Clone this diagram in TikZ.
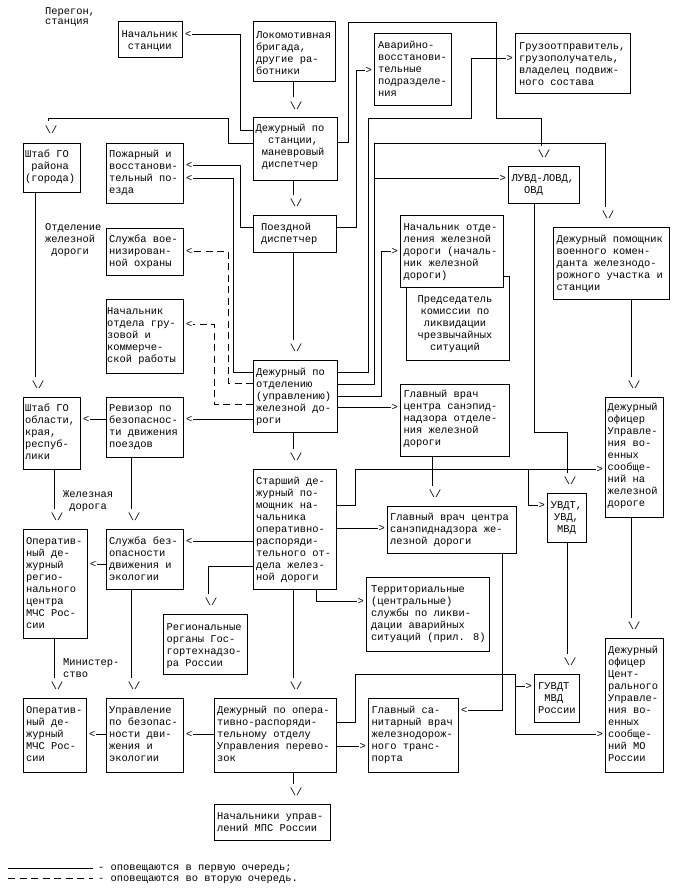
\documentclass[tikz,border=0pt]{standalone}
\usepackage{fontspec}
\newfontfamily\monofam{Liberation Mono}
\newcommand\monof{\monofam\fontsize{10.4}{12}\selectfont}
\newcommand\ind[1]{\hspace*{#1\dimexpr0.6em\relax}}
\newcommand\bs{\textbackslash}
\newcommand\T[4]{\node[tx] (#1) at (#2,#3-8.4) {\strut#4};}
\newcommand\TC[4]{\node[tc] (#1) at (#2,#3-8.4) {\strut#4};}
\newcommand\B[5]{\node[bx, minimum width=#4pt, minimum height=#5pt] (#1) at (#2,#3) {};}
\begin{document}
\begin{tikzpicture}[x=1pt,y=-1pt,
  bx/.style={draw, line width=1pt, anchor=north west, inner sep=0pt, outer sep=0pt, fill=white},
  tx/.style={anchor=north west, inner sep=0pt, align=left, font=\monof},
  tc/.style={anchor=north, inner sep=0pt, align=center, font=\monof},
  ln/.style={line width=0.7pt},
  dl/.style={line width=0.7pt, dash pattern=on 7pt off 4.5pt},
  lt/.style={anchor=west, inner sep=0pt, font=\monof, xshift=3pt},
  gt/.style={anchor=east, inner sep=0pt, font=\monof, xshift=-2pt},
  dn/.style={anchor=north, inner sep=0pt, font=\monof, xshift=3.12pt, yshift=-4.5pt}]
\useasboundingbox[fill=white] (0,0) rectangle (677,888);

% ---------- boxes ----------
\B{nst}{118}{22}{64}{36}
\B{loco}{253}{22}{82}{60}
\B{avar}{374}{34}{77}{72}
\B{gruz}{515}{34}{115}{60}
\B{ds}{253}{118}{84}{62}
\B{shr}{23}{143}{57}{49}
\B{pozh}{106}{143}{77}{60}
\B{luvd}{508}{166}{71}{37}
\B{pd}{253}{215}{83}{37}
\B{sluzh}{106}{228}{77}{47}
\B{pred}{406}{276}{103}{84}
\B{nod}{400}{215}{103}{72}
\B{dpvk}{553}{227}{116}{72}
\B{nog}{106}{299}{77}{74}
\B{dpo}{253}{360}{84}{72}
\B{sho}{23}{397}{57}{72}
\B{rev}{106}{397}{77}{60}
\B{gvo}{400}{384}{109}{72}
\B{dov}{605}{397}{58}{120}
\B{st}{253}{469}{83}{120}
\B{gvz}{387}{506}{129}{47}
\B{uvdt}{547}{493}{39}{49}
\B{ord}{23}{529}{64}{109}
\B{sbd}{106}{529}{77}{60}
\B{ter}{366}{577}{123}{74}
\B{reg}{163}{614}{84}{60}
\B{docu}{605}{638}{58}{134}
\B{guvdt}{534}{674}{45}{48}
\B{omch}{23}{698}{63}{74}
\B{upr}{106}{698}{77}{74}
\B{doro}{214}{698}{122}{74}
\B{gsv}{368}{698}{90}{74}
\B{nu}{214}{804}{116}{36}

% ---------- texts ----------
\node[anchor=north west, inner sep=0pt, align=left, font=\monofam\fontsize{10.4}{10}\selectfont] (peregon) at (45,14-7) {\strut Перегон,\\станция};
\T{tnst}{121.5}{37.5}{Начальник\\\ind{1}станции}
\T{tloco}{256}{38}{Локомотивная\\бригада,\\другие ра-\\ботники}
\T{tavar}{378}{48.5}{Аварийно-\\восстанови-\\тельные\\подразделе-\\ния}
\T{tgruz}{519}{49.5}{Грузоотправитель,\\грузополучатель,\\владелец подвиж-\\ного состава}
\T{tds}{255.5}{131.5}{Дежурный по\\\ind{2}станции,\\\ind{1}маневровый\\\ind{1}диспетчер}
\T{tshr}{25}{157.5}{Штаб ГО\\\ind{1}района\\(города)}
\T{tpozh}{109}{157.5}{Пожарный и\\восстанови-\\тельный по-\\езда}
\T{tluvd}{511.5}{181.5}{ЛУВД-ЛОВД,\\\ind{2}ОВД}
\T{tpd}{261}{230.5}{Поездной\\диспетчер}
\T{otd}{45}{230.5}{Отделение\\железной\\\ind{1}дороги}
\T{tsluzh}{109}{242.5}{Служба вое-\\низирован-\\ной охраны}
\T{tnod}{403.5}{230.5}{Начальник отде-\\ления железной\\дороги (началь-\\ник железной\\дороги)}
\TC{tpred}{455}{302.5}{Председатель\\комиссии по\\ликвидации\\чрезвычайных\\ситуаций}
\T{tdpvk}{556.5}{242.5}{Дежурный помощник\\военного комен-\\данта железнодо-\\рожного участка и\\станции}
\T{tnog}{107}{314.5}{Начальник\\отдела гру-\\зовой и\\коммерче-\\ской работы}
\T{tdpo}{256}{375.5}{Дежурный по\\отделению\\(управлению)\\железной до-\\роги}
\T{tsho}{25}{411}{Штаб ГО\\области,\\края,\\респуб-\\лики}
\T{trev}{109}{411}{Ревизор по\\безопаснос-\\ти движения\\поездов}
\T{tgvo}{403.5}{397.5}{Главный врач\\центра санэпид-\\надзора отделе-\\ния железной\\дороги}
\T{tdov}{607.5}{410.5}{Дежурный\\офицер\\Управле-\\ния во-\\енных\\сообще-\\ний на\\железной\\дороге}
\T{zhd}{63}{497}{Железная\\\ind{1}дорога}
\T{tst}{256}{484.5}{Старший де-\\журный по-\\мощник на-\\чальника\\оперативно-\\распоряди-\\тельного от-\\дела желез-\\ной дороги}
\T{tgvz}{390}{520.5}{Главный врач центра\\санэпиднадзора же-\\лезной дороги}
\TC{tuvdt}{566.5}{508.5}{УВДТ,\\УВД,\\МВД}
\T{tord}{26}{544.5}{Оператив-\\ный де-\\журный\\регио-\\нального\\центра\\МЧС Рос-\\сии}
\T{tsbd}{109}{544.5}{Служба без-\\опасности\\движения и\\экологии}
\T{tter}{371}{592.5}{Территориальные\\(центральные)\\службы по ликви-\\дации аварийных\\ситуаций (прил. 8)}
\T{treg}{166.5}{630.5}{Региональные\\органы Гос-\\гортехнадзо-\\ра России}
\T{tdocu}{608}{653.5}{Дежурный\\офицер\\Цент-\\рального\\Управле-\\ния во-\\енных\\сообще-\\ний МО\\России}
\T{minist}{63}{665.5}{Министер-\\ство}
\T{tguvdt}{538}{689.5}{ГУВДТ\\\ind{1}МВД\\России}
\T{tomch}{26}{713.5}{Оператив-\\ный де-\\журный\\МЧС Рос-\\сии}
\T{tupr}{109}{713.5}{Управление\\по безопас-\\ности дви-\\жения и\\экологии}
\T{tdoro}{217}{713.5}{Дежурный по опера-\\тивно-распоряди-\\тельному отделу\\Управления перево-\\зок}
\T{tgsv}{371.5}{713.5}{Главный са-\\нитарный врач\\железнодорож-\\ного транс-\\порта}
\T{tnu}{217}{819.5}{Начальники управ-\\лений МПС России}
\T{lg1}{98}{870.5}{- оповещаются в первую очередь;}
\T{lg2}{98}{881}{- оповещаются во вторую очередь.}

% ---------- legend lines ----------
\draw[ln] (8,0 |- lg1.west) -- ([xshift=-5pt]lg1.west);
\draw[dl] (8,0 |- lg2.west) -- ([xshift=-5pt]lg2.west);

% ---------- left / centre connectors ----------
% ds -> nst
\node[lt] (a1) at (nst.east |- 0,34) {<};
\draw[ln] (ds.west |- 0,130) -| (240,34) -- (a1.east);
% loco -> ds
\coordinate (p2) at (293,97);
\node[dn] (v2) at (p2) {\bs/};
\draw[ln] (loco.south -| p2) -- (p2);
% ds -> shr
\coordinate (p3) at (48,121.5);
\node[dn] (v3) at (p3) {\bs/};
\draw[ln] (ds.west |- 0,143) -| (228,118) -| (p3);
% pd -> pozh
\node[lt] (a4) at (pozh.east |- 0,165) {<};
\draw[ln] (pd.west |- 0,227) -| (240,165) -- (a4.east);
% dpo -> pozh
\node[lt] (a5) at (pozh.east |- 0,178) {<};
\draw[ln] (dpo.west |- 0,372) -| (233,178) -- (a5.east);
% dpo -> sluzh (dashed)
\node[lt] (a6) at (sluzh.east |- 0,251) {<};
\draw[dl] (dpo.west |- 0,383) -| (228,251) -- (a6.east);
% dpo -> nog (dashed)
\node[lt] (a7) at (nog.east |- 0,324) {<};
\draw[dl] (dpo.west |- 0,404) -| (214,324) -- (a7.east);
% dpo -> rev
\node[lt] (a8) at (rev.east |- 0,419) {<};
\draw[ln] (dpo.west |- 0,419) -- (a8.east);
% rev -> sho
\node[lt] (a9) at (sho.east |- 0,419) {<};
\draw[ln] (rev.west |- 0,419) -- (a9.east);
% shr -> sho
\coordinate (p10) at (35,376.5);
\node[dn] (v10) at (p10) {\bs/};
\draw[ln] (shr.south -| p10) -- (p10);
% ds -> pd
\coordinate (p12) at (293,194.5);
\node[dn] (v12) at (p12) {\bs/};
\draw[ln] (ds.south -| p12) -- (p12);
% pd -> dpo
\coordinate (p11) at (293,339.5);
\node[dn] (v11) at (p11) {\bs/};
\draw[ln] (pd.south -| p11) -- (p11);
% dpo -> st
\coordinate (p13) at (293,448.5);
\node[dn] (v13) at (p13) {\bs/};
\draw[ln] (dpo.south -| p13) -- (p13);
% rev -> sbd
\coordinate (p14) at (131,508.5);
\node[dn] (v14) at (p14) {\bs/};
\draw[ln] (rev.south -| p14) -- (p14);
% sho -> ord
\coordinate (p15) at (54,508.5);
\node[dn] (v15) at (p15) {\bs/};
\draw[ln] (sho.south -| p15) -- (p15);
% st -> sbd
\node[lt] (a16) at (sbd.east |- 0,541) {<};
\draw[ln] (st.west |- 0,541) -- (a16.east);
% sbd -> ord
\node[lt] (a17) at (ord.east |- 0,564) {<};
\draw[ln] (sbd.west |- 0,564) -- (a17.east);
% st -> reg
\coordinate (p18) at (208,593.5);
\node[dn] (v18) at (p18) {\bs/};
\draw[ln] (st.west |- 0,566) -| (p18);
% st -> doro
\coordinate (p19) at (293,677.5);
\node[dn] (v19) at (p19) {\bs/};
\draw[ln] (st.south -| p19) -- (p19);
% sbd -> upr
\coordinate (p20) at (131,677.5);
\node[dn] (v20) at (p20) {\bs/};
\draw[ln] (sbd.south -| p20) -- (p20);
% ord -> omch
\coordinate (p21) at (54,677.5);
\node[dn] (v21) at (p21) {\bs/};
\draw[ln] (ord.south -| p21) -- (p21);
% doro -> upr
\node[lt] (a22) at (upr.east |- 0,734) {<};
\draw[ln] (doro.west |- 0,734) -- (a22.east);
% upr -> omch
\node[lt] (a23) at (omch.east |- 0,734) {<};
\draw[ln] (upr.west |- 0,734) -- (a23.east);
% doro -> nu
\coordinate (p24) at (293,783.5);
\node[dn] (v24) at (p24) {\bs/};
\draw[ln] (doro.south -| p24) -- (p24);

% ---------- right connectors ----------
% pd -> avar
\node[gt] (a25) at (avar.west |- 0,70) {>};
\draw[ln] (pd.east |- 0,227) -| (356,70) -- (a25.west);
% ds -> luvd
\coordinate (p26) at (541,145.5);
\node[dn] (v26) at (p26) {\bs/};
\draw[ln] (ds.east |- 0,142) -| (348,22) -| (496,118) -| (p26);
% dpo -> gruz
\node[gt] (a27) at (gruz.west |- 0,58) {>};
\draw[ln] (dpo.east |- 0,372) -| (368,118) -| (471,58) -- (a27.west);
% dpo -> dpvk
\coordinate (p28) at (605,206.5);
\node[dn] (v28) at (p28) {\bs/};
\draw[ln] (dpo.east |- 0,384) -| (374,143) -| (p28);
% branch -> luvd
\coordinate (j29) at (374,178);
\node[gt] (a29) at (luvd.west |- j29) {>};
\draw[ln] (j29) -- (a29.west);
% dpo -> nod
\node[gt] (a30) at (nod.west |- 0,251) {>};
\draw[ln] (dpo.east |- 0,396) -| (381,251) -- (a30.west);
% dpo -> gvo
\node[gt] (a31) at (gvo.west |- 0,407) {>};
\draw[ln] (dpo.east |- 0,407) -- (a31.west);
% luvd -> uvdt
\coordinate (p32) at (567,472.5);
\node[dn] (v32) at (p32) {\bs/};
\draw[ln] (luvd.south -| 534,0) |- (567,432) -- (p32);
% gvo -> gvz
\coordinate (p33) at (432,485.5);
\node[dn] (v33) at (p33) {\bs/};
\draw[ln] (gvo.south -| p33) -- (p33);
% st -> dov
\node[gt] (a34) at (dov.west |- 0,469) {>};
\draw[ln] (st.east |- 0,505) -| (355,469) -- (a34.west);
% branch -> uvdt
\coordinate (j35) at (528,469);
\node[gt] (a35) at (uvdt.west |- 0,505) {>};
\draw[ln] (j35) |- (a35.west);
% st -> gvz
\node[gt] (a36) at (gvz.west |- 0,528) {>};
\draw[ln] (st.east |- 0,528) -- (a36.west);
% st -> ter
\node[gt] (a37) at (ter.west |- 0,601) {>};
\draw[ln] (st.south -| 316,0) |- (a37.west);
% dpvk -> dov
\coordinate (p38) at (631,376.5);
\node[dn] (v38) at (p38) {\bs/};
\draw[ln] (dpvk.south -| p38) -- (p38);
% dov -> docu
\coordinate (p39) at (631,617.5);
\node[dn] (v39) at (p39) {\bs/};
\draw[ln] (dov.south -| p39) -- (p39);
% gvz -> gsv
\node[lt] (a40) at (gsv.east |- 0,710) {<};
\draw[ln] (gvz.south -| 502,0) |- (a40.east);
% uvdt -> guvdt
\coordinate (p41) at (567,653.5);
\node[dn] (v41) at (p41) {\bs/};
\draw[ln] (uvdt.south -| p41) -- (p41);
% doro -> docu
\node[gt] (a42) at (docu.west |- 0,734) {>};
\draw[ln] (doro.east |- 0,722) -| (355,674) -| (515,734) -- (a42.west);
% branch -> guvdt
\coordinate (j43) at (515,686);
\node[gt] (a43) at (guvdt.west |- j43) {>};
\draw[ln] (j43) -- (a43.west);
% doro -> gsv
\node[gt] (a44) at (gsv.west |- 0,746) {>};
\draw[ln] (doro.east |- 0,746) -- (a44.west);
\end{tikzpicture}
\end{document}
